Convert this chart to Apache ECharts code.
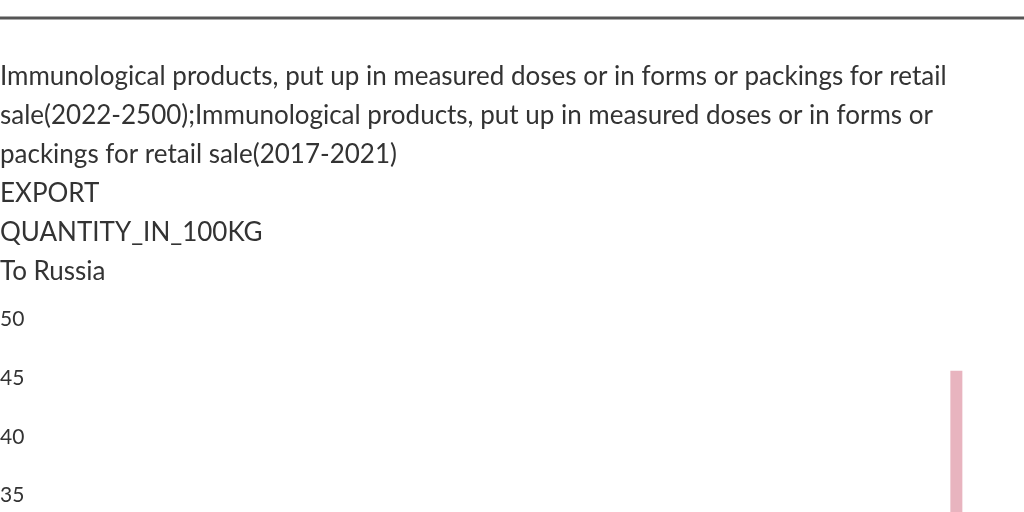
<!DOCTYPE html>
<html>
<head>
<meta charset="utf-8">
<script src="https://cdn.jsdelivr.net/npm/echarts@6/dist/echarts.min.js"></script>
<style>
  html, body { margin: 0; padding: 0; overflow: hidden; background: #fff; }
  #chart { width: 1024px; height: 960px; }
</style>
</head>
<body>
<div id="chart"></div>
<script>
// title lines as shown above the chart
var titleLines = [
	'Immunological products, put up in measured doses or in forms or packings for retail',
	'sale(2022-2500);Immunological products, put up in measured doses or in forms or',
	'packings for retail sale(2017-2021)',
	'EXPORT',
	'QUANTITY_IN_100KG',
	'To Russia'
];
var years = ['2013','2014','2015','2016','2017','2018','2019','2020','2021','2022','2023'];
var quantity = [null, null, null, null, null, null, null, null, null, null, 45.6];

var myChart = echarts.init(document.getElementById('chart'));
myChart.setOption({
	animation: false,
	title: {
		text: titleLines.join('\n'),
		left: 0,
		top: 57,
		padding: 0,
		textStyle: {
			fontFamily: 'Lato',
			fontSize: 26,
			fontWeight: 'normal',
			color: '#333',
			lineHeight: 39
		}
	},
	graphic: [{
		type: 'line',
		shape: { x1: 0, y1: 18, x2: 1024, y2: 18 },
		style: { stroke: '#555', lineWidth: 3 }
	}],
	grid: { left: 40, right: 24, top: 319, bottom: 52, outerBoundsMode: 'none' },
	xAxis: {
		type: 'category',
		data: years,
		axisLine: { show: false },
		axisTick: { show: false },
		axisLabel: { color: '#333', fontFamily: 'Lato', fontSize: 21 }
	},
	yAxis: {
		type: 'value',
		min: 0,
		max: 50,
		interval: 5,
		splitLine: { show: false },
		axisLine: { show: false },
		axisTick: { show: false },
		axisLabel: {
			align: 'left',
			margin: 40,
			color: '#333',
			fontFamily: 'Lato',
			fontSize: 21
		}
	},
	series: [{
		name: 'QUANTITY_IN_100KG',
		type: 'bar',
		data: quantity,
		barWidth: 12,
		itemStyle: { color: '#e8b4bf' }
	}]
});
</script>
</body>
</html>
